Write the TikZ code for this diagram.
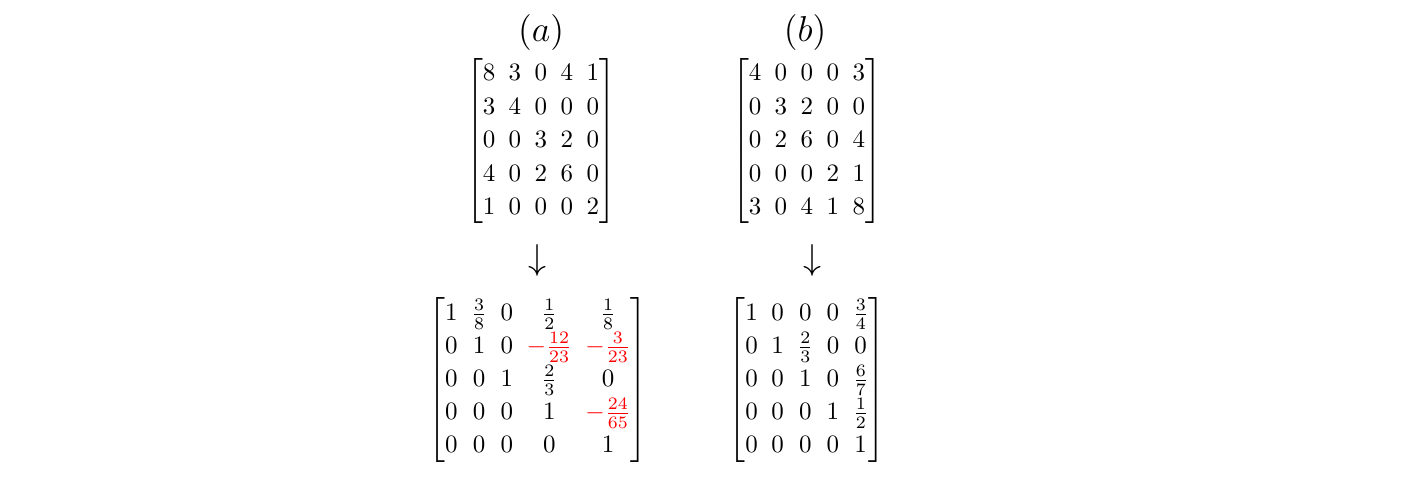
\documentclass[tikz,border=0pt]{standalone}
\usepackage{amsmath}
\usepackage{xcolor}
\begin{document}
\begin{tikzpicture}[x=0.4pt,y=-0.4pt,
  mat/.style={inner sep=0pt},
  lab/.style={font=\Large}]
\useasboundingbox (0,0) rectangle (1424,494);
\setlength{\arraycolsep}{2.7pt}
\renewcommand{\arraystretch}{1.12}
\node[lab] (la) at (541,32) {$(a)$};
\node[lab] (lb) at (805,32) {$(b)$};
\node[mat] (ma) at (541,141) {$\begin{bmatrix}8&3&0&4&1\\3&4&0&0&0\\0&0&3&2&0\\4&0&2&6&0\\1&0&0&0&2\end{bmatrix}$};
\node[mat] (mb) at (807,141) {$\begin{bmatrix}4&0&0&0&3\\0&3&2&0&0\\0&2&6&0&4\\0&0&0&2&1\\3&0&4&1&8\end{bmatrix}$};
\node[lab] (aa) at (537,260) {$\downarrow$};
\node[lab] (ab) at (812,260) {$\downarrow$};
\node[mat] (ra) at (538,380) {$\renewcommand{\arraystretch}{1.1}\setlength{\arraycolsep}{2.7pt}\begin{bmatrix}1&\frac38&0&\frac12&\frac18\\0&1&0&\color{red}-\frac{12}{23}&\color{red}-\frac{3}{23}\\0&0&1&\frac23&0\\0&0&0&1&\color{red}-\frac{24}{65}\\0&0&0&0&1\end{bmatrix}$};
\node[mat] (rb) at (807,380) {$\renewcommand{\arraystretch}{1.1}\begin{bmatrix}1&0&0&0&\frac34\\0&1&\frac23&0&0\\0&0&1&0&\frac67\\0&0&0&1&\frac12\\0&0&0&0&1\end{bmatrix}$};
\end{tikzpicture}
\end{document}
